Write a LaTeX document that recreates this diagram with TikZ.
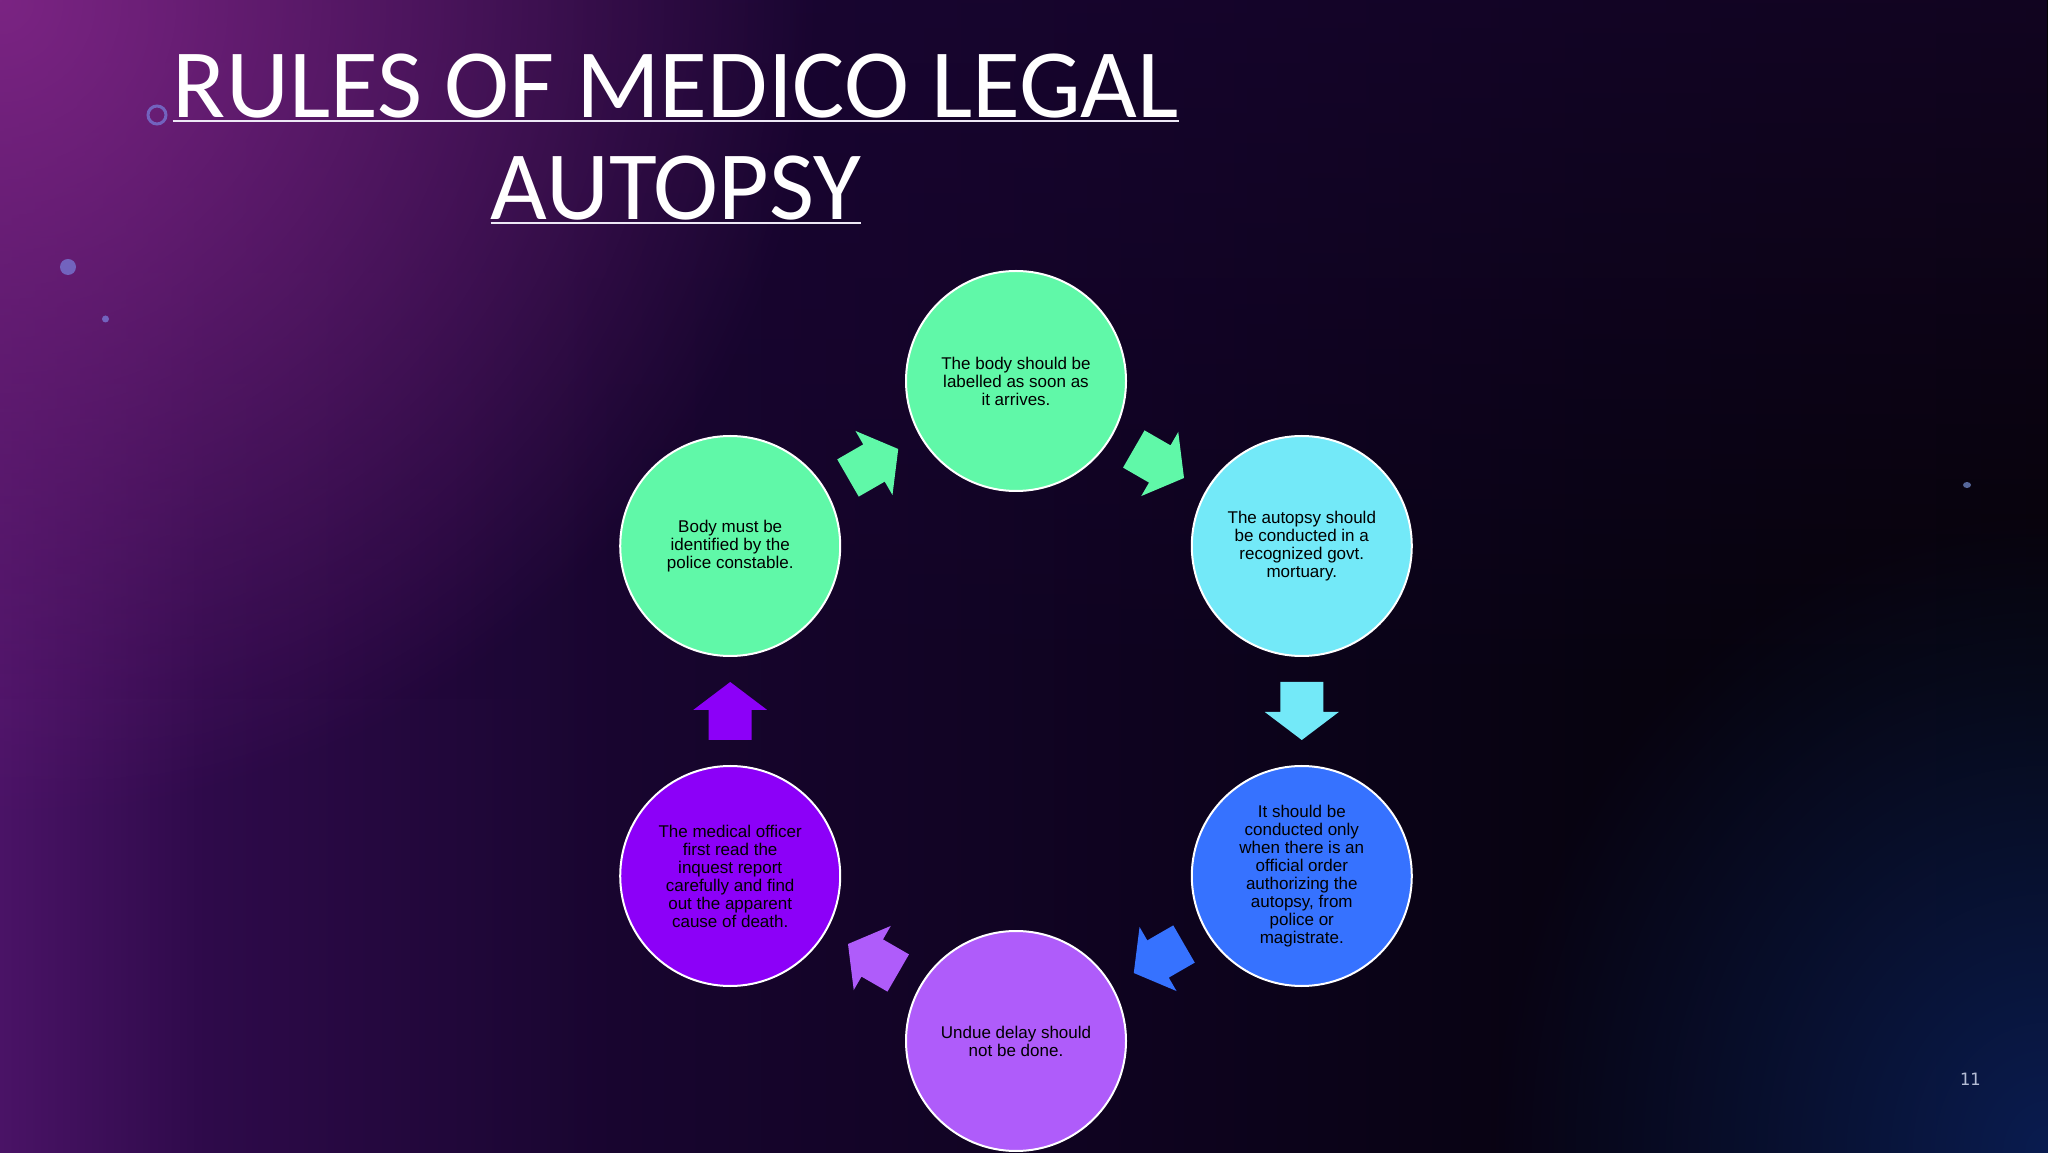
\documentclass[tikz,border=0pt]{standalone}
\usepackage{fontspec}
\setmainfont{Liberation Sans}
\newfontfamily\titlefont{Carlito}
\newfontfamily\numfont{DejaVu Sans Mono}
\usetikzlibrary{calc, fadings}

\definecolor{bgA}{HTML}{4A1366}
\definecolor{bgB}{HTML}{2E0A4A}
\definecolor{bgC}{HTML}{18052F}
\definecolor{bgD}{HTML}{0D031D}
\definecolor{bgE}{HTML}{070310}
\definecolor{bgF}{HTML}{050306}
\definecolor{bandtint}{HTML}{1C0636}
\definecolor{glowpink}{HTML}{7B2483}
\definecolor{glowblue}{HTML}{0A1C50}
\definecolor{mint}{HTML}{60F8A8}
\definecolor{aqua}{HTML}{73E9F8}
\definecolor{royal}{HTML}{3672FF}
\definecolor{lilac}{HTML}{AF5CFA}
\definecolor{violet}{HTML}{8C00F8}
\definecolor{dotlav}{HTML}{7263BE}
\definecolor{dotblue}{HTML}{56679A}
\definecolor{titleline}{HTML}{EEE8F6}
\definecolor{pagenum}{HTML}{B4BCD4}

\pgfdeclarehorizontalshading{slidebg}{100bp}{color(0bp)=(bgA); color(25bp)=(bgA);
  color(30bp)=(bgB); color(40bp)=(bgC); color(54.3bp)=(bgD);
  color(64bp)=(bgE); color(75bp)=(bgF); color(100bp)=(bgF)}
\tikzfading[name=glowfade, inner color=transparent!0, outer color=transparent!100]
\tikzfading[name=bandfade, top color=transparent!45, bottom color=transparent!100]

\tikzset{
  stage/.style={
    circle, draw=white, line width=2pt, minimum size=220pt, inner sep=0pt,
    align=center, text=black, font=\fontsize{17}{18}\selectfont,
  },
  titletxt/.style={font=\titlefont\fontsize{98}{102}\selectfont, text=white,
                   inner sep=0pt, anchor=base},
  titlerule/.style={draw=titleline, line width=2.5pt},
  pageno/.style={font=\numfont\fontsize{17}{20}\selectfont, text=pagenum},
}

\begin{document}
\begin{tikzpicture}[x=1pt, y=1pt]

  \useasboundingbox (0,0) rectangle (2048,1152);
  \begin{scope}
    \clip (0,0) rectangle (2048,1152);
    \shade[shading=slidebg] (0,0) rectangle (2048,1152);
    \fill[bandtint, path fading=bandfade] (0,452) rectangle (2048,1152);
    \fill[glowpink, path fading=glowfade] (0,1152) circle[radius=820];
    \fill[glowblue, path fading=glowfade] (2048,0) ellipse[x radius=560, y radius=640];
  \end{scope}

  % small ornaments
  \draw[dotlav, line width=3pt] (157,1037) circle[radius=9];
  \fill[dotlav] (68,885) circle[radius=8];
  \fill[dotlav] (105.5,833) circle[radius=3.5];
  \fill[dotblue] (1967,667) ellipse[x radius=4, y radius=3];

  \node[titletxt] (t1) at (676,1034) {RULES OF MEDICO LEGAL};
  \node[titletxt] (t2) at (676,932) {AUTOPSY};
  \draw[titlerule] ($(t1.base west)+(0,-3)$) -- ($(t1.base east)+(0,-3)$);
  \draw[titlerule] ($(t2.base west)+(0,-3)$) -- ($(t2.base east)+(0,-3)$);

  \coordinate (hub) at (1016,441);
  \node[stage, fill=mint] (top) at ($(hub)+(90:330)$)
    {The body should be\\labelled as soon as\\it arrives.};
  \node[stage, fill=aqua] (ur) at ($(hub)+(30:330)$)
    {The autopsy should\\be conducted in a\\recognized govt.\\mortuary.};
  \node[stage, fill=royal] (lr) at ($(hub)+(-30:330)$)
    {It should be\\conducted only\\when there is an\\official order\\authorizing the\\autopsy, from\\police or\\magistrate.};
  \node[stage, fill=lilac] (bot) at ($(hub)+(-90:330)$)
    {Undue delay should\\not be done.};
  \node[stage, fill=violet] (ll) at ($(hub)+(210:330)$)
    {The medical officer\\first read the\\inquest report\\carefully and find\\out the apparent\\cause of death.};
  \node[stage, fill=mint] (ul) at ($(hub)+(150:330)$)
    {Body must be\\identified by the\\police constable.};

  \foreach \from/\to/\ang/\col in {ul/top/30/mint, top/ur/-30/mint, ur/lr/-90/aqua,
                                   lr/bot/-150/royal, bot/ll/150/lilac, ll/ul/90/violet}
    \fill[\col, shift={($(\from)!0.5!(\to)$)}, rotate=\ang]
      (-29,-21.5) -- (1,-21.5) -- (1,-37) -- (29,0) -- (1,37) -- (1,21.5) -- (-29,21.5) -- cycle;

  \node[pageno] (pg) at (1970,73) {11};

\end{tikzpicture}
\end{document}
